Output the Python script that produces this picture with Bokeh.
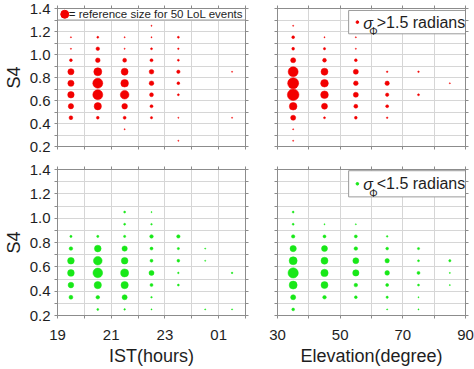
import math
from bokeh.plotting import figure
from bokeh.layouts import column, row
from bokeh.models import FixedTicker, LinearAxis, Label, Range1d, PrintfTickFormatter
from bokeh.embed import file_html
from bokeh.resources import INLINE

# ---------------- data ----------------
# S4 bins are centred between grid lines; counts = number of LoL events
ist_red_x = [19.5] * 8 + [20.5] * 8 + [21.5] * 9 + [22.5] * 9 + [23.5] * 8 + [25.5] * 2
ist_red_y = [1.15, 1.05, 0.95, 0.85, 0.75, 0.65, 0.55, 0.45,
             1.15, 1.05, 0.95, 0.85, 0.75, 0.65, 0.55, 0.45,
             1.15, 1.05, 0.95, 0.85, 0.75, 0.65, 0.55, 0.45, 0.35,
             1.25, 1.15, 1.05, 0.95, 0.85, 0.75, 0.65, 0.55, 0.45,
             1.15, 1.05, 0.95, 0.85, 0.75, 0.65, 0.45, 0.25,
             0.85, 0.45]
ist_red_n = [1, 1, 6, 30, 30, 33, 22, 11,
             3, 10, 17, 50, 78, 78, 42, 6,
             1, 1, 12, 38, 46, 59, 25, 7, 1,
             1, 1, 3, 7, 17, 17, 12, 7, 4,
             3, 2, 3, 9, 6, 3, 1, 1,
             1, 1]

elev_red_x = [35] * 11 + [45] * 8 + [55] * 8 + [65] * 5 + [75] * 2 + [85] * 1
elev_red_y = [1.25, 1.15, 1.05, 0.95, 0.85, 0.75, 0.65, 0.55, 0.45, 0.35, 0.25,
              1.15, 1.05, 0.95, 0.85, 0.75, 0.65, 0.55, 0.45,
              1.15, 1.05, 0.95, 0.85, 0.75, 0.65, 0.55, 0.45,
              0.85, 0.75, 0.65, 0.55, 0.45,
              0.85, 0.65,
              0.75]
elev_red_n = [1, 6, 6, 20, 78, 95, 106, 46, 20, 1, 1,
              1, 4, 11, 38, 46, 46, 28, 3,
              1, 1, 6, 20, 17, 20, 12, 6,
              2, 15, 9, 7, 2,
              2, 3,
              1]

ist_green_x = [19.5] * 6 + [20.5] * 7 + [21.5] * 9 + [22.5] * 9 + [23.5] * 5 + [24.5] * 3 + [25.5] * 2
ist_green_y = [0.85, 0.75, 0.65, 0.55, 0.45, 0.35,
               0.85, 0.75, 0.65, 0.55, 0.45, 0.35, 0.25,
               1.05, 0.95, 0.85, 0.75, 0.65, 0.55, 0.45, 0.35, 0.25,
               1.05, 0.95, 0.85, 0.75, 0.65, 0.55, 0.45, 0.35, 0.25,
               0.85, 0.75, 0.65, 0.55, 0.45,
               0.75, 0.65, 0.25,
               0.55, 0.25]
ist_green_n = [4, 10, 35, 35, 25, 12,
               4, 35, 59, 73, 42, 10, 3,
               3, 3, 4, 22, 35, 50, 42, 20, 2,
               1, 2, 10, 7, 7, 20, 7, 2, 1,
               9, 4, 6, 2, 3,
               1, 1, 1,
               2, 1]

elev_green_x = [35] * 9 + [45] * 7 + [55] * 7 + [65] * 7 + [75] * 6 + [85] * 3
elev_green_y = [1.05, 0.95, 0.85, 0.75, 0.65, 0.55, 0.45, 0.35, 0.25,
                0.95, 0.85, 0.75, 0.65, 0.55, 0.45, 0.35,
                0.95, 0.85, 0.75, 0.65, 0.55, 0.45, 0.35,
                0.85, 0.75, 0.65, 0.55, 0.45, 0.35, 0.25,
                0.75, 0.65, 0.55, 0.45, 0.35, 0.25,
                0.65, 0.55, 0.45]
elev_green_n = [3, 3, 9, 31, 50, 83, 50, 20, 6,
                1, 7, 28, 38, 42, 38, 10,
                1, 7, 10, 28, 31, 10, 6,
                2, 6, 15, 17, 7, 4, 1,
                4, 3, 7, 3, 1, 1,
                4, 1, 1]

REF_EVENTS = 50
s4_ticks = [0.2, 0.4, 0.6, 0.8, 1.0, 1.2, 1.4]
s4_minor = [0.3, 0.5, 0.7, 0.9, 1.1, 1.3]
ist_ticks = [19, 21, 23, 25]
ist_minor = [20, 22, 24, 26]
ist_labels = {25: "01"}
elev_ticks = [30, 50, 70, 90]
elev_minor = [40, 60, 80]

# ---------------- styling ----------------
FONT = "Liberation Sans"
AX = "#8c8c8c"
GRID = "#d6d6d6"
TXT = "#1e1e1e"
RED = "#f20000"
GREEN = "#18e818"
LEG_LINE = "#9a9a9a"
REF_PX = 8.0

Y_RANGE = (0.2, 1.4)
IST_RANGE = (19, 26)
ELEV_RANGE = (30, 90)


def sizes(counts):
    return [REF_PX * math.sqrt(c / REF_EVENTS) for c in counts]


def style_axis(ax, ticker, show_labels, overrides=None, fmt=None, standoff=4):
    ax.ticker = ticker
    ax.axis_line_color = AX
    ax.major_tick_line_color = AX
    ax.minor_tick_line_color = AX
    ax.major_tick_out = 3
    ax.major_tick_in = 0
    ax.minor_tick_out = 3
    ax.minor_tick_in = 0
    ax.major_label_text_font = FONT
    if show_labels:
        ax.major_label_text_color = TXT
        ax.major_label_text_font_size = "15px"
        ax.major_label_standoff = standoff
        if fmt is not None:
            ax.formatter = fmt
        if overrides:
            ax.major_label_overrides = overrides
    else:
        ax.major_label_text_color = None
        ax.major_label_text_font_size = "1px"
        ax.major_label_standoff = 0
    ax.axis_label_text_font = FONT
    ax.axis_label_text_font_size = "18px"
    ax.axis_label_text_font_style = "normal"
    ax.axis_label_text_color = TXT
    ax.axis_label_standoff = 3


def panel(xs, ys, ns, color, xr, xt, xm, xo, show_x, show_y, w, h, borders, xlabel=None):
    lb, rb, tb, bb = borders
    p = figure(width=w, height=h, x_range=Range1d(*xr), y_range=Range1d(*Y_RANGE),
               output_backend="svg", toolbar_location=None,
               min_border_left=lb, min_border_right=rb,
               min_border_top=tb, min_border_bottom=bb)
    p.background_fill_color = "white"
    p.border_fill_color = "white"
    p.outline_line_color = AX
    xtick = FixedTicker(ticks=xt, minor_ticks=xm)
    ytick = FixedTicker(ticks=s4_ticks, minor_ticks=s4_minor)
    bottom_ax = p.xaxis[0]
    left_ax = p.yaxis[0]
    style_axis(bottom_ax, xtick, show_x, xo, standoff=11)
    style_axis(left_ax, ytick, show_y, fmt=PrintfTickFormatter(format="%.1f"), standoff=4)
    top = LinearAxis()
    style_axis(top, xtick, False)
    right = LinearAxis()
    style_axis(right, ytick, False)
    p.add_layout(top, "above")
    p.add_layout(right, "right")
    if show_y:
        left_ax.axis_label = "S4"
    if xlabel:
        bottom_ax.axis_label = xlabel
    for g, t in ((p.xgrid[0], xtick), (p.ygrid[0], ytick)):
        g.ticker = t
        g.grid_line_color = GRID
        g.minor_grid_line_color = GRID
        g.grid_line_width = 1
    p.scatter(xs, ys, size=sizes(ns), fill_color=color, line_color=color, line_width=0.5)
    return p


def sigma_legend(p, color, sign, box):
    left, right, top, bottom = box
    ymid = (top + bottom) / 2
    span = right - left
    p.quad(left=[left], right=[right], top=[top], bottom=[bottom],
           fill_color="white", line_color=LEG_LINE, line_width=1)
    mx = left + 0.075 * span
    p.scatter([mx], [ymid], size=2.6, fill_color=color, line_color=color)
    tx = left + 0.125 * span
    p.add_layout(Label(x=tx, y=ymid, text="σ", text_font=FONT, text_font_size="16px",
                       text_font_style="italic", text_baseline="middle", text_color=TXT, y_offset=-1))
    p.add_layout(Label(x=tx, y=ymid, x_offset=6, y_offset=-9, text="Φ", text_font=FONT,
                       text_font_size="10.5px", text_baseline="middle", text_color=TXT))
    p.add_layout(Label(x=tx, y=ymid, x_offset=13.5, text=sign + "1.5 radians", text_font=FONT,
                       text_font_size="16px", text_baseline="middle", text_color=TXT))


LW, RW = 250, 224
TH, BH = 158, 211
L_BORD_TOP = (54, 5, 8, 12)
R_BORD_TOP = (27, 9, 8, 12)
L_BORD_BOT = (54, 5, 11, 54)
R_BORD_BOT = (27, 9, 11, 54)

p1 = panel(ist_red_x, ist_red_y, ist_red_n, RED, IST_RANGE, ist_ticks, ist_minor, ist_labels,
           False, True, LW, TH, L_BORD_TOP)
p2 = panel(elev_red_x, elev_red_y, elev_red_n, RED, ELEV_RANGE, elev_ticks, elev_minor, None,
           False, False, RW, TH, R_BORD_TOP)
p3 = panel(ist_green_x, ist_green_y, ist_green_n, GREEN, IST_RANGE, ist_ticks, ist_minor, ist_labels,
           True, True, LW, BH, L_BORD_BOT, "IST(hours)")
p4 = panel(elev_green_x, elev_green_y, elev_green_n, GREEN, ELEV_RANGE, elev_ticks, elev_minor, None,
           True, False, RW, BH, R_BORD_BOT, "Elevation(degree)")

# reference-size legend (top-left)
p1.quad(left=[IST_RANGE[0]], right=[IST_RANGE[1]], top=[1.4], bottom=[1.3],
        fill_color="white", line_color=LEG_LINE, line_width=1)
ref_x = IST_RANGE[0] + 0.27
p1.scatter([ref_x], [1.35], size=sizes([REF_EVENTS]), fill_color=RED, line_color=RED)
p1.add_layout(Label(x=ref_x, y=1.35, x_offset=4, text="= reference size for 50 LoL events",
                    text_font=FONT, text_font_size="11.5px", text_baseline="middle", text_color=TXT))

sigma_legend(p2, RED, ">", (52.7, 90, 1.383, 1.18))
sigma_legend(p4, GREEN, "<", (52.7, 90, 1.39, 1.175))

layout = column(row(p1, p2), row(p3, p4))
open("out.html", "w").write(file_html(layout, INLINE))
